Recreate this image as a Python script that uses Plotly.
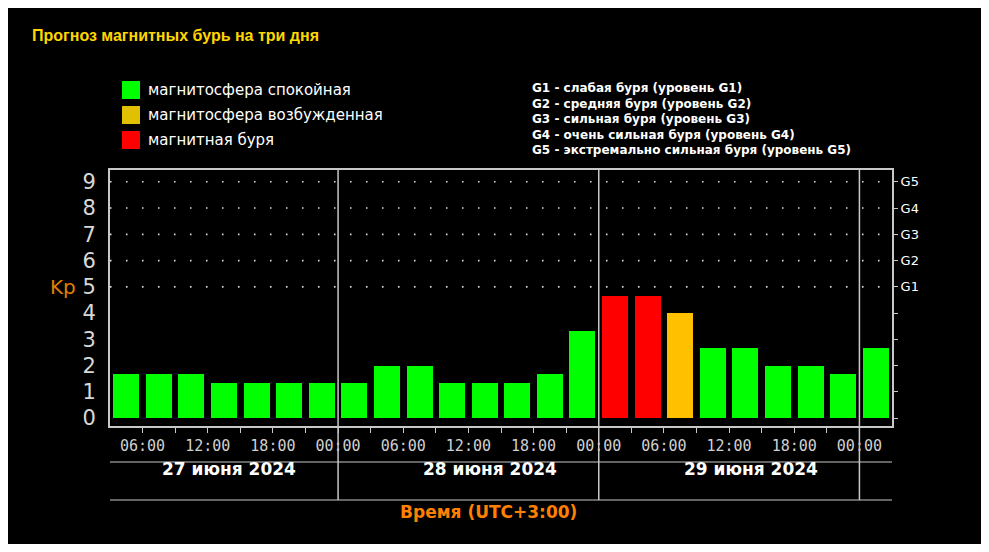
import plotly.graph_objects as go

# data
hours = [4.5 + 3 * i for i in range(24)]  # bar centres, hours from 00:00 27 June (UTC+3)
kp = [1.67, 1.67, 1.67, 1.33, 1.33, 1.33, 1.33,
      1.33, 2.0, 2.0, 1.33, 1.33, 1.33, 1.67, 3.33,
      4.67, 4.67, 4.0, 2.67, 2.67, 2.0, 2.0, 1.67,
      2.67]
status = ["q"] * 15 + ["s", "s", "a"] + ["q"] * 6
colors_map = {"q": "#00ff00", "a": "#ffc000", "s": "#ff0000"}
x_ticks = [6, 12, 18, 24, 30, 36, 42, 48, 54, 60, 66, 72]
x_ticktext = ["06:00", "12:00", "18:00", "00:00"] * 3
days = ["27 июня 2024", "28 июня 2024", "29 июня 2024"]
day_centers = [14, 38, 62]
g_labels = ["G1", "G2", "G3", "G4", "G5"]
g_desc = ["G1 - слабая буря (уровень G1)", "G2 - средняя буря (уровень G2)",
          "G3 - сильная буря (уровень G3)", "G4 - очень сильная буря (уровень G4)",
          "G5 - экстремально сильная буря (уровень G5)"]
legend_items = [("магнитосфера спокойная", "#00ff00"),
                ("магнитосфера возбужденная", "#e0c000"),
                ("магнитная буря", "#ff0000")]

OFF = 8  # page body margin
W, H = 989 - 2 * OFF, 552 - 2 * OFF
L, R, T, B = 110, 892, 170, 426
def px(x): return (x - L) / (R - L)
def py(y): return (B - y) / (B - T)

fig = go.Figure()
fig.add_trace(go.Bar(x=hours, y=kp, width=2.4,
                     marker=dict(color=[colors_map[s] for s in status], line_width=0),
                     showlegend=False))
fig.add_trace(go.Scatter(x=[None], y=[None], yaxis="y2", showlegend=False))

grey = "#c8c8c8"
shapes = []
for g in range(5, 10):
    shapes.append(dict(type="line", xref="paper", yref="y", x0=0, x1=1, y0=g, y1=g,
                       line=dict(color="#dddddd", width=1.6, dash="1.5px,14.5px"), layer="below"))
for d in [24, 48, 72]:
    shapes.append(dict(type="line", xref="x", yref="paper", x0=d, x1=d, y0=1, y1=py(500),
                       line=dict(color=grey, width=1.5)))
for yy in [462, 500]:
    shapes.append(dict(type="line", xref="paper", yref="paper", x0=0, x1=1, y0=py(yy), y1=py(yy),
                       line=dict(color=grey, width=1.2)))
ann = []
for i, (t, c) in enumerate(legend_items):
    y0 = 81 + 25 * i
    shapes.append(dict(type="rect", xref="paper", yref="paper", x0=px(122), x1=px(140),
                       y0=py(y0 + 18), y1=py(y0), fillcolor=c, line_width=0))
    ann.append(dict(text=t, x=px(146), y=py(y0 + 9), xref="paper", yref="paper",
                    xanchor="left", yanchor="middle", showarrow=False,
                    font=dict(family="DejaVu Sans", size=15, color="white")))
for i, t in enumerate(g_desc):
    ann.append(dict(text="<b>" + t + "</b>", x=px(530), y=py(88 + 15.5 * i), xref="paper", yref="paper",
                    xanchor="left", yanchor="middle", showarrow=False,
                    font=dict(family="DejaVu Sans", size=12, color="white")))
for t, c in zip(days, day_centers):
    ann.append(dict(text="<b>" + t + "</b>", x=c, y=py(481), xref="x", yref="paper",
                    showarrow=False, font=dict(family="DejaVu Sans", size=17, color="white")))
ann.append(dict(text="<b>Прогноз магнитных бурь на три дня</b>", x=px(30), y=py(35),
                xref="paper", yref="paper", xanchor="left", yanchor="middle", showarrow=False,
                font=dict(family="Liberation Sans", size=16, color="#ffd700")))
ann.append(dict(text="Kp", x=px(78), y=py(287), xref="paper", yref="paper", showarrow=False,
                xanchor="right", font=dict(family="DejaVu Sans", size=20, color="#e08000")))
ann.append(dict(text="<b>Время (UTC+3:00)</b>", x=px(488), y=py(524), xref="paper", yref="paper",
                showarrow=False, font=dict(family="DejaVu Sans", size=17, color="#ff8000")))

fig.update_layout(
    width=W, height=H, margin=dict(l=L - OFF, r=989 - R - OFF, t=T - OFF, b=552 - B - OFF),
    paper_bgcolor="black", plot_bgcolor="black", bargap=0,
    shapes=shapes, annotations=ann,
    xaxis=dict(range=[3, 75], tickvals=x_ticks, ticktext=x_ticktext, ticks="outside",
               ticklen=5, tickcolor=grey, showgrid=False, zeroline=False,
               showline=True, linecolor=grey, linewidth=2, mirror=True,
               tickfont=dict(family="DejaVu Sans Mono", size=15, color="#d0d0d0"),
               minor=dict(tickvals=[9 + 6 * i for i in range(11)], ticks="outside",
                          ticklen=5, tickcolor=grey)),
    yaxis=dict(range=[-0.3, 9.45], tickvals=list(range(10)), showgrid=False, zeroline=False,
               showline=True, linecolor=grey, linewidth=2, mirror=True, ticks="",
               ticklabelstandoff=8,
               tickfont=dict(family="DejaVu Sans", size=21, color="#d8d8d8")),
    yaxis2=dict(range=[-0.3, 9.45], overlaying="y", side="right", tickvals=list(range(10)),
                ticktext=[""] * 5 + g_labels, ticks="outside", ticklen=5, tickcolor=grey,
                showgrid=False, zeroline=False,
                tickfont=dict(family="DejaVu Sans", size=13, color="white")),
)
fig.write_html("out.html")
